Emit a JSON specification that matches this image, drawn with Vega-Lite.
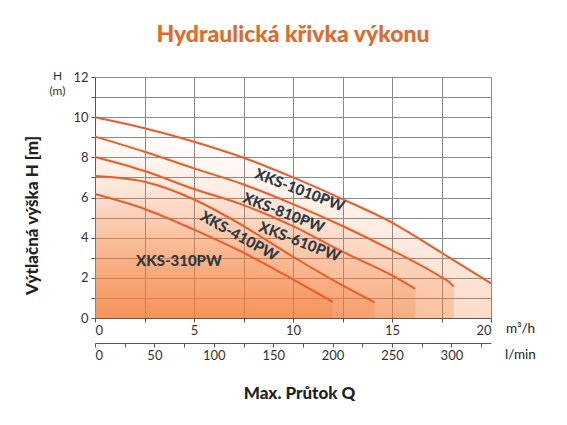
{
  "$schema": "https://vega.github.io/schema/vega-lite/v6.json",
  "description": "Hydraulic performance curves of XKS pumps: head H against flow Q.",
  "width": 396,
  "height": 241,
  "autosize": {"type": "none"},
  "padding": {"left": 95, "top": 77, "right": 76, "bottom": 107},
  "background": "white",
  "title": {
    "text": "Hydraulická křivka výkonu",
    "anchor": "middle",
    "frame": "group",
    "offset": 22,
    "fontSize": 23,
    "fontWeight": 900,
    "color": "#e0692b"
  },
  "config": {
    "font": "Lato",
    "view": {"stroke": null},
    "axis": {
      "labelFont": "Lato",
      "labelFontSize": 13,
      "labelColor": "#333333",
      "titleFont": "Lato",
      "titleColor": "#222222",
      "domainColor": "#555555",
      "tickColor": "#555555",
      "gridColor": "#8a8a8a",
      "gridOpacity": 1,
      "tickSize": 4
    }
  },
  "datasets": {
    "curves": [
      {"pump": "XKS-1010PW", "q": 0, "h": 10},
      {"pump": "XKS-1010PW", "q": 2.5, "h": 9.45},
      {"pump": "XKS-1010PW", "q": 5, "h": 8.78},
      {"pump": "XKS-1010PW", "q": 7.5, "h": 7.98},
      {"pump": "XKS-1010PW", "q": 10, "h": 7.0},
      {"pump": "XKS-1010PW", "q": 12.5, "h": 5.92},
      {"pump": "XKS-1010PW", "q": 15, "h": 4.75},
      {"pump": "XKS-1010PW", "q": 17.5, "h": 3.25},
      {"pump": "XKS-1010PW", "q": 20, "h": 1.72},
      {"pump": "XKS-810PW", "q": 0, "h": 9.03},
      {"pump": "XKS-810PW", "q": 2.5, "h": 8.28},
      {"pump": "XKS-810PW", "q": 5, "h": 7.45},
      {"pump": "XKS-810PW", "q": 7.5, "h": 6.65},
      {"pump": "XKS-810PW", "q": 10, "h": 5.67},
      {"pump": "XKS-810PW", "q": 12.5, "h": 4.58},
      {"pump": "XKS-810PW", "q": 15, "h": 3.37},
      {"pump": "XKS-810PW", "q": 17.5, "h": 2.03},
      {"pump": "XKS-810PW", "q": 17.9, "h": 1.78},
      {"pump": "XKS-810PW", "q": 18.12, "h": 1.57},
      {"pump": "XKS-610PW", "q": 0, "h": 8.02},
      {"pump": "XKS-610PW", "q": 2.5, "h": 7.32},
      {"pump": "XKS-610PW", "q": 5, "h": 6.42},
      {"pump": "XKS-610PW", "q": 7.5, "h": 5.62},
      {"pump": "XKS-610PW", "q": 10, "h": 4.57},
      {"pump": "XKS-610PW", "q": 12.5, "h": 3.3},
      {"pump": "XKS-610PW", "q": 15, "h": 2.12},
      {"pump": "XKS-610PW", "q": 16.17, "h": 1.45},
      {"pump": "XKS-410PW", "q": 0, "h": 7.07},
      {"pump": "XKS-410PW", "q": 2.5, "h": 6.78},
      {"pump": "XKS-410PW", "q": 5, "h": 5.9},
      {"pump": "XKS-410PW", "q": 7.5, "h": 4.58},
      {"pump": "XKS-410PW", "q": 10, "h": 3.05},
      {"pump": "XKS-410PW", "q": 12.5, "h": 1.62},
      {"pump": "XKS-410PW", "q": 14.12, "h": 0.78},
      {"pump": "XKS-310PW", "q": 0, "h": 6.17},
      {"pump": "XKS-310PW", "q": 2.5, "h": 5.43},
      {"pump": "XKS-310PW", "q": 5, "h": 4.4},
      {"pump": "XKS-310PW", "q": 7.5, "h": 3.25},
      {"pump": "XKS-310PW", "q": 10, "h": 1.92},
      {"pump": "XKS-310PW", "q": 12, "h": 0.8}
    ],
    "labels": [
      {"pump": "XKS-1010PW", "q": 10.34, "h": 6.37, "tilt": "shallow"},
      {"pump": "XKS-810PW", "q": 9.53, "h": 5.24, "tilt": "shallow"},
      {"pump": "XKS-610PW", "q": 10.34, "h": 3.8, "tilt": "shallow"},
      {"pump": "XKS-410PW", "q": 7.28, "h": 4.08, "tilt": "steep"},
      {"pump": "XKS-310PW", "q": 4.24, "h": 2.86, "tilt": "flat"}
    ]
  },
  "layer": [
    {
      "data": {"name": "curves"},
      "mark": {
        "type": "area",
        "interpolate": "monotone",
        "color": {
          "gradient": "linear",
          "x1": 0, "y1": 0, "x2": 0, "y2": 1,
          "stops": [
            {"offset": 0, "color": "rgba(243,122,52,0)"},
            {"offset": 0.35, "color": "rgba(243,122,52,0.08)"},
            {"offset": 1, "color": "rgba(243,122,52,0.27)"}
          ]
        }
      },
      "encoding": {
        "x": {
          "field": "q",
          "type": "quantitative",
          "scale": {"domain": [0, 20], "nice": false},
          "axis": {
            "orient": "bottom",
            "values": [0, 2.5, 5, 7.5, 10, 12.5, 15, 17.5, 20],
            "labelExpr": "datum.value % 5 == 0 ? datum.label : ''",
            "labelPadding": 2,
            "title": "m³/h",
            "titleFontSize": 13.5,
            "titleFontWeight": "normal",
            "titleAlign": "center",
            "titleBaseline": "middle",
            "titleX": 425,
            "titleY": 10
          }
        },
        "y": {
          "field": "h",
          "type": "quantitative",
          "stack": null,
          "scale": {"domain": [0, 12], "nice": false},
          "axis": {
            "orient": "left",
            "values": [0, 1, 2, 3, 4, 5, 6, 7, 8, 9, 10, 11, 12],
            "labelExpr": "datum.value % 2 == 0 ? datum.label : ''",
            "labelPadding": 3,
            "title": "Výtlačná výška H [m]",
            "titleFontSize": 17,
            "titleFontWeight": 900,
            "titleAngle": -90,
            "titleAlign": "center",
            "titleBaseline": "middle",
            "titleX": -63,
            "titleY": 138
          }
        },
        "detail": {"field": "pump"}
      }
    },
    {
      "data": {"name": "curves"},
      "mark": {"type": "line", "interpolate": "monotone", "color": "#f05a24", "strokeWidth": 2},
      "encoding": {
        "x": {"field": "q", "type": "quantitative", "scale": {"domain": [0, 20], "nice": false}, "axis": null},
        "y": {"field": "h", "type": "quantitative", "scale": {"domain": [0, 12], "nice": false}, "axis": null},
        "detail": {"field": "pump"}
      }
    },
    {
      "data": {"name": "labels"},
      "transform": [{"filter": "datum.tilt == 'shallow'"}],
      "mark": {"type": "text", "angle": 21, "font": "Lato", "fontSize": 15, "fontWeight": 900, "color": "#2e3944"},
      "encoding": {
        "x": {"field": "q", "type": "quantitative", "scale": {"domain": [0, 20], "nice": false}, "axis": null},
        "y": {"field": "h", "type": "quantitative", "scale": {"domain": [0, 12], "nice": false}, "axis": null},
        "text": {"field": "pump"}
      }
    },
    {
      "data": {"name": "labels"},
      "transform": [{"filter": "datum.tilt == 'steep'"}],
      "mark": {"type": "text", "angle": 29, "font": "Lato", "fontSize": 15, "fontWeight": 900, "color": "#2e3944"},
      "encoding": {
        "x": {"field": "q", "type": "quantitative", "scale": {"domain": [0, 20], "nice": false}, "axis": null},
        "y": {"field": "h", "type": "quantitative", "scale": {"domain": [0, 12], "nice": false}, "axis": null},
        "text": {"field": "pump"}
      }
    },
    {
      "data": {"name": "labels"},
      "transform": [{"filter": "datum.tilt == 'flat'"}],
      "mark": {"type": "text", "font": "Lato", "fontSize": 15, "fontWeight": 900, "color": "#2e3944"},
      "encoding": {
        "x": {"field": "q", "type": "quantitative", "scale": {"domain": [0, 20], "nice": false}, "axis": null},
        "y": {"field": "h", "type": "quantitative", "scale": {"domain": [0, 12], "nice": false}, "axis": null},
        "text": {"field": "pump"}
      }
    },
    {
      "data": {"values": [{"lmin": 0, "h": 0}]},
      "mark": {"type": "point", "opacity": 0},
      "encoding": {
        "x": {
          "field": "lmin",
          "type": "quantitative",
          "scale": {"domain": [0, 333.333], "nice": false},
          "axis": {
            "orient": "bottom",
            "offset": 25,
            "grid": false,
            "values": [0, 25, 50, 75, 100, 125, 150, 175, 200, 225, 250, 275, 300, 325],
            "labelExpr": "datum.value % 50 == 0 ? datum.label : ''",
            "labelPadding": 2,
            "title": "l/min",
            "titleFontSize": 13.5,
            "titleFontWeight": "normal",
            "titleAlign": "center",
            "titleBaseline": "middle",
            "titleX": 425,
            "titleY": 11
          }
        },
        "y": {
          "field": "h",
          "type": "quantitative",
          "scale": {"domain": [0, 12], "nice": false},
          "axis": {
            "orient": "left",
            "labels": false,
            "ticks": false,
            "domain": false,
            "grid": false,
            "title": ["H", "(m)"],
            "titleFontSize": 12,
            "titleFontWeight": "normal",
            "titleColor": "#333333",
            "titleAngle": 0,
            "titleAlign": "center",
            "titleBaseline": "middle",
            "titleLineHeight": 15,
            "titleX": -38,
            "titleY": -2
          }
        }
      }
    },
    {
      "data": {"values": [{"q": 0}]},
      "mark": {"type": "point", "opacity": 0},
      "encoding": {
        "x": {
          "field": "q",
          "type": "quantitative",
          "scale": {"domain": [0, 20], "nice": false},
          "axis": {
            "orient": "bottom",
            "labels": false,
            "ticks": false,
            "domain": false,
            "grid": false,
            "title": "Max. Průtok Q",
            "titleFontSize": 17,
            "titleFontWeight": 900,
            "titleAlign": "center",
            "titleBaseline": "middle",
            "titleX": 204,
            "titleY": 75
          }
        }
      }
    }
  ],
  "resolve": {
    "scale": {"x": "independent"},
    "axis": {"x": "independent", "y": "independent"}
  }
}
